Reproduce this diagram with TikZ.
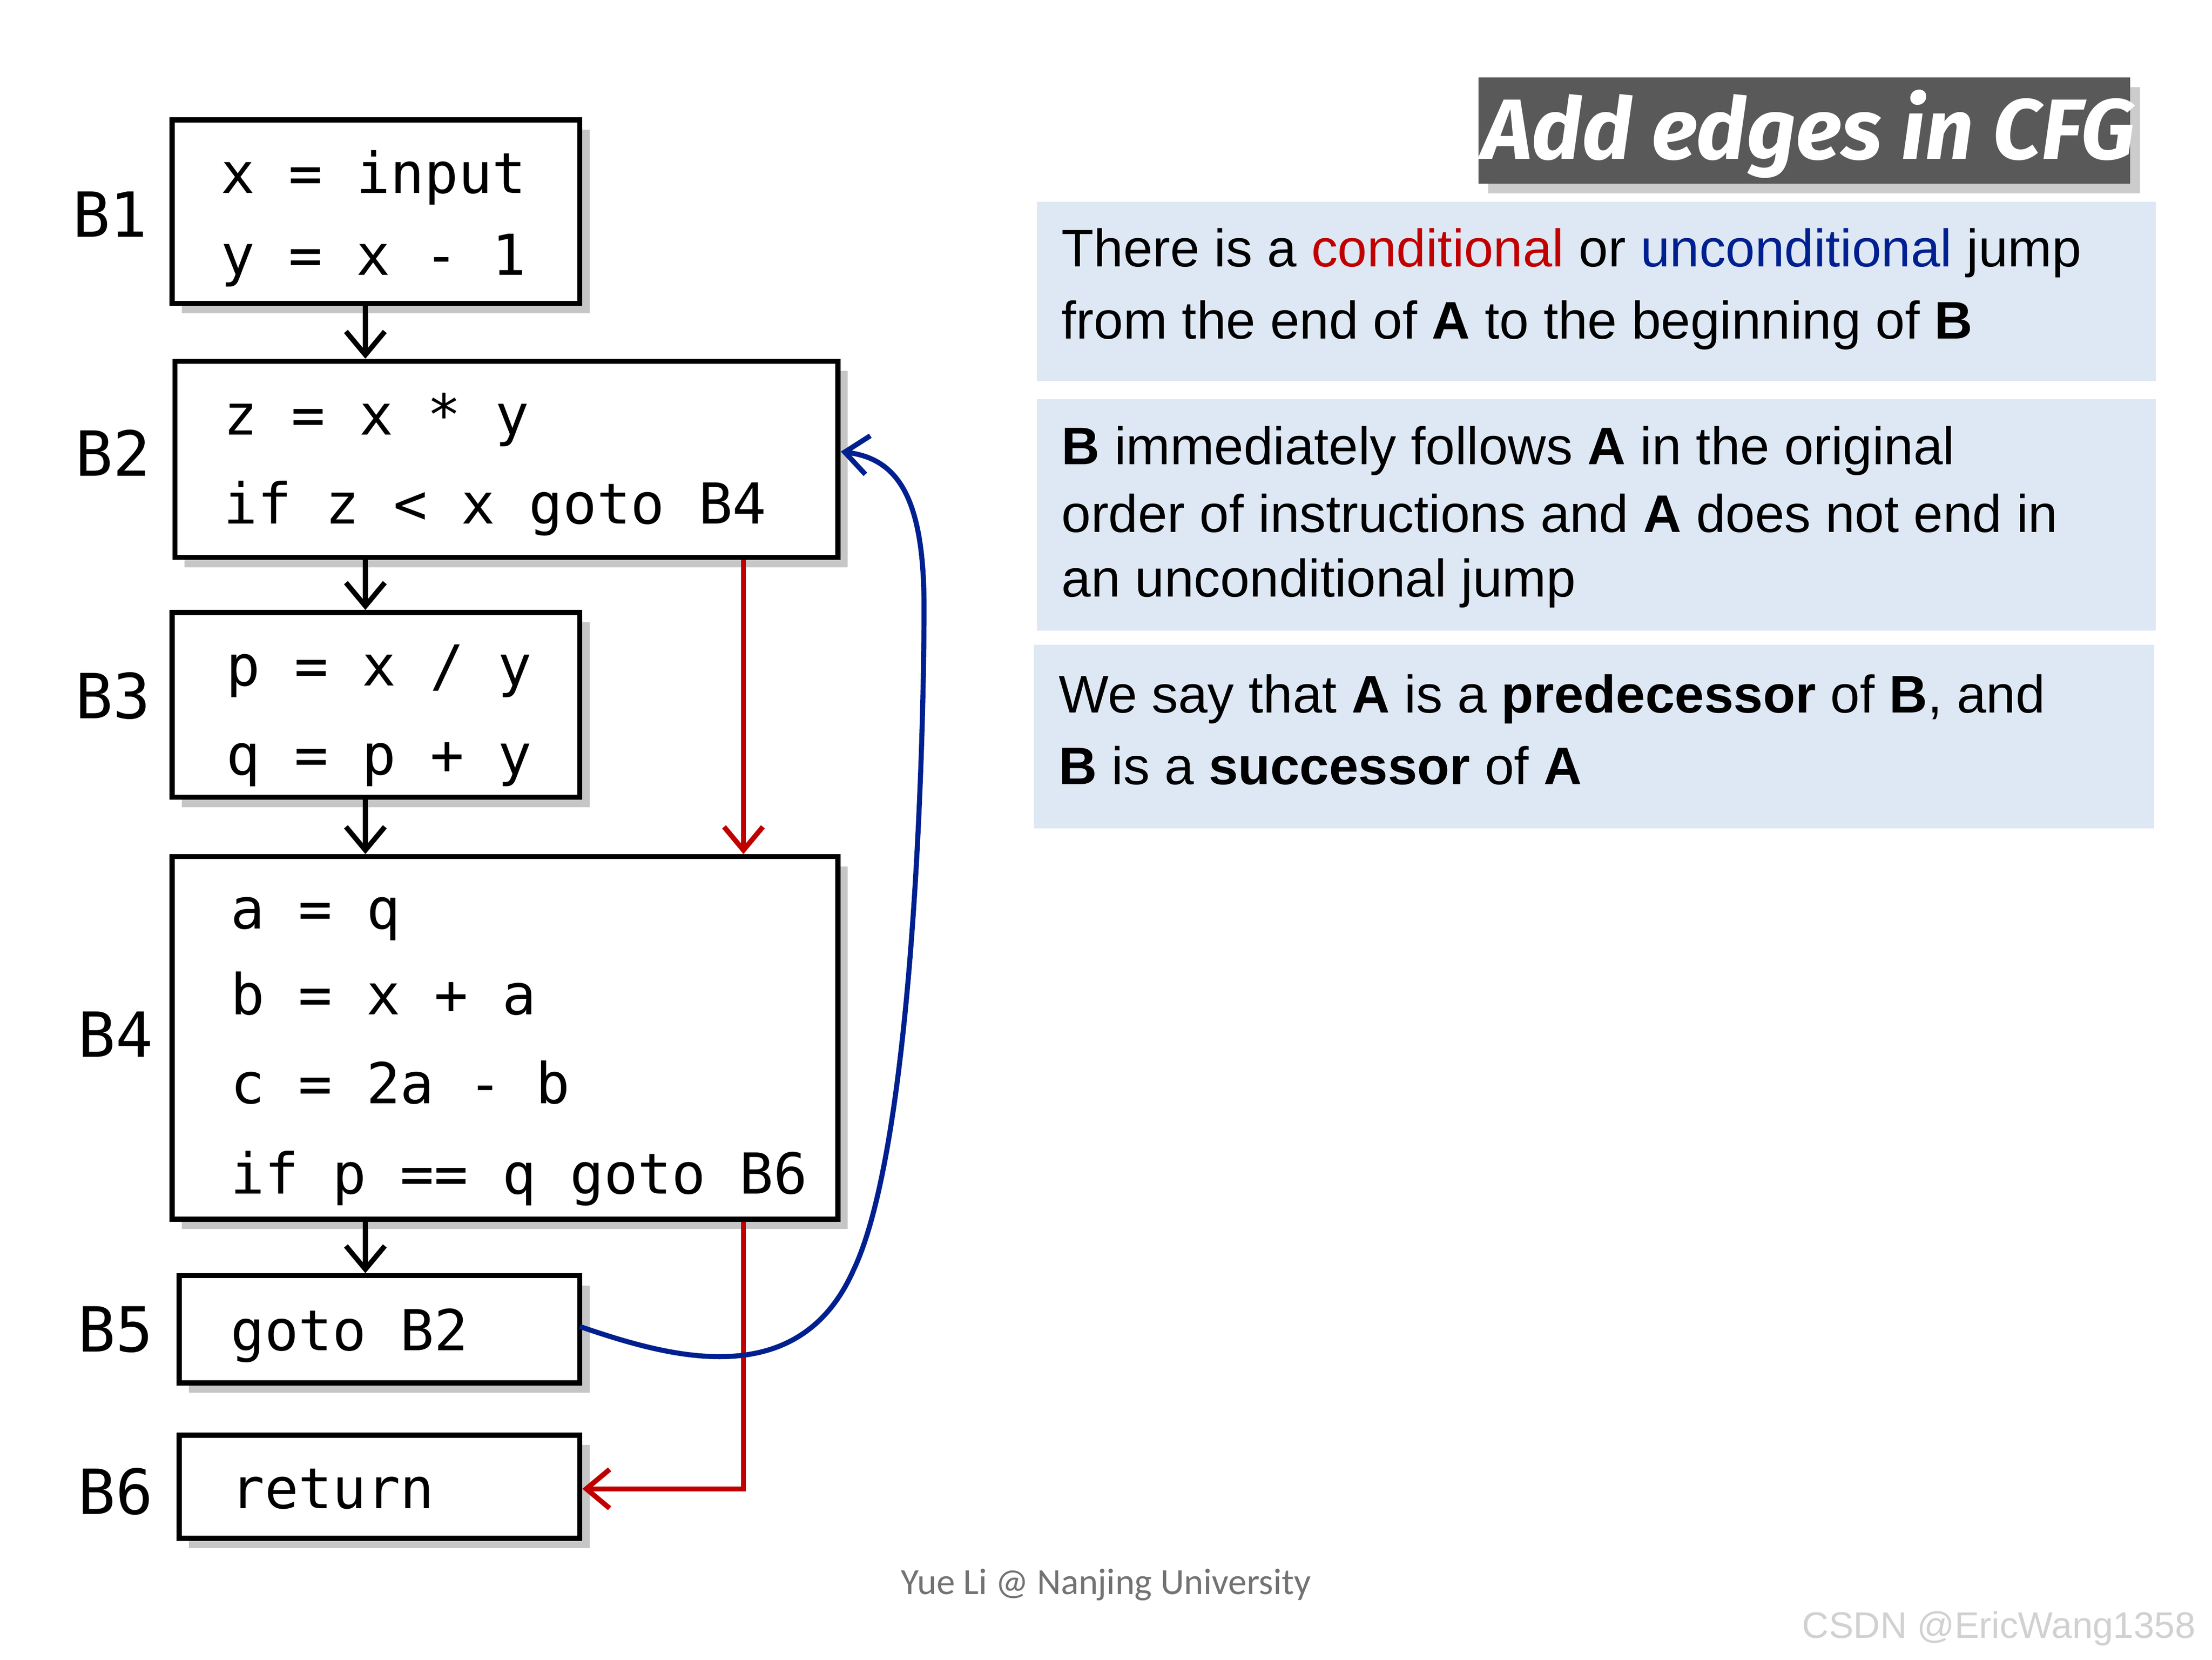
\documentclass[tikz,border=0pt]{standalone}
\usepackage{fontspec}
\setmainfont{Liberation Sans}
\newfontfamily\monof{DejaVu Sans Mono}
\newfontfamily\titlef{Fira Sans}
\newfontfamily\footf{Carlito}
\usetikzlibrary{fit,shadows,arrows.meta}
\definecolor{redc}{HTML}{C00000}
\definecolor{bluec}{HTML}{002090}
\definecolor{panel}{HTML}{DEE8F4}
\begin{document}
\begin{tikzpicture}[x=0.012755cm,y=-0.012755cm,
  box/.style={draw=black,line width=1.3pt,fill=white,inner sep=0pt,
    drop shadow={shadow xshift=2.5pt,shadow yshift=-2.5pt,opacity=0.45,fill=gray}},
  code/.style={anchor=base west,inner sep=0pt,font=\monof\fontsize{14.5}{17}\selectfont},
  lbl/.style={anchor=center,inner sep=0pt,font=\monof\fontsize{16}{19}\selectfont},
  arr/.style={line width=1.3pt,-{Straight Barb[length=6pt,width=10pt]}},
  panelbox/.style={fill=panel,draw=none,inner sep=0pt},
  ptxt/.style={anchor=base west,inner sep=0pt,font=\fontsize{13.6}{16}\selectfont}]
\useasboundingbox (0,0) rectangle (1568,1176);
% boxes
\node[box,fit={(122,85)(411,215)}] (b1) {};
\node[box,fit={(124,256)(594,395)}] (b2) {};
\node[box,fit={(122,434)(411,565)}] (b3) {};
\node[box,fit={(122,607)(594,864)}] (b4) {};
\node[box,fit={(127,904)(411,980)}] (b5) {};
\node[box,fit={(127,1017)(411,1090)}] (b6) {};
% labels
\node[lbl] (l1) at (78,152) {B1};
\node[lbl] (l2) at (80,321) {B2};
\node[lbl] (l3) at (80,493) {B3};
\node[lbl] (l4) at (82,733) {B4};
\node[lbl] (l5) at (82,942) {B5};
\node[lbl] (l6) at (82,1057) {B6};
% code
\node[code] (c11) at (156,137) {x = input};
\node[code] (c12) at (156,195) {y = x - 1};
\node[code] (c21) at (158,308) {z = x * y};
\node[code] (c22) at (158,371) {if z < x goto B4};
\node[code] (c31) at (160,486) {p = x / y};
\node[code] (c32) at (160,549) {q = p + y};
\node[code] (c41) at (163,658) {a = q};
\node[code] (c42) at (163,719) {b = x + a};
\node[code] (c43) at (163,782) {c = 2a - b};
\node[code] (c44) at (163,846) {if p == q goto B6};
\node[code] (c51) at (163,957) {goto B2};
\node[code] (c61) at (163,1069) {return};
% black arrows
\coordinate (ax) at (259,0);
\draw[arr] (b1.south -| ax) -- (b2.north -| ax);
\draw[arr] (b2.south -| ax) -- (b3.north -| ax);
\draw[arr] (b3.south -| ax) -- (b4.north -| ax);
\draw[arr] (b4.south -| ax) -- (b5.north -| ax);
% red arrows
\coordinate (rx) at (527,0);
\coordinate (ry) at (0,1055);
\draw[arr,redc] (b2.south -| rx) -- (b4.north -| rx);
\draw[arr,redc] (b4.south -| rx) -- (rx |- ry) -- (b6.east |- ry);
% blue arrow
\coordinate (bs) at (411,940);
\coordinate (be) at (596,320);
\coordinate (bm) at (605,900);
\coordinate (bt) at (655,430);
\draw[arr,bluec] (bs) .. controls (470,960) and (565,990) .. (bm)
  .. controls (648,810) and (655,520) .. (bt)
  .. controls (655,350) and (635,325) .. (be);
% title
\node[fill=black!65,inner sep=0pt,fit={(1048,55)(1510,130)},
  drop shadow={shadow xshift=2.5pt,shadow yshift=-2.5pt,opacity=0.4,fill=gray}] (tb) {};
\node[text=white,font=\titlef\bfseries\itshape\fontsize{22}{26}\selectfont] (tt) at (1282,95) {Add edges in CFG};
% panels
\node[panelbox,fit={(735,143)(1528,270)}] (p1) {};
\node[panelbox,fit={(735,283)(1528,447)}] (p2) {};
\node[panelbox,fit={(733,457)(1527,587)}] (p3) {};
\node[ptxt] (t11) at (752,189) {There is a \textcolor{redc}{conditional} or \textcolor{bluec}{unconditional} jump};
\node[ptxt] (t12) at (752,240) {from the end of \textbf{A} to the beginning of \textbf{B}};
\node[ptxt] (t21) at (752,329) {\textbf{B} immediately follows \textbf{A} in the original};
\node[ptxt] (t22) at (752,377) {order of instructions and \textbf{A} does not end in};
\node[ptxt] (t23) at (752,423) {an unconditional jump};
\node[ptxt] (t31) at (750,505) {We say that \textbf{A} is a \textbf{predecessor} of \textbf{B}, and};
\node[ptxt] (t32) at (750,556) {\textbf{B} is a \textbf{successor} of \textbf{A}};
% footer
\node[text=black!55,font=\footf\fontsize{9.5}{11}\selectfont] (ft) at (784,1123) {Yue Li @ Nanjing University};
\node[anchor=east,text=black!18,font=\fontsize{9.5}{11}\selectfont] (wm) at (1566,1154) {CSDN @EricWang1358};
\end{tikzpicture}
\end{document}
